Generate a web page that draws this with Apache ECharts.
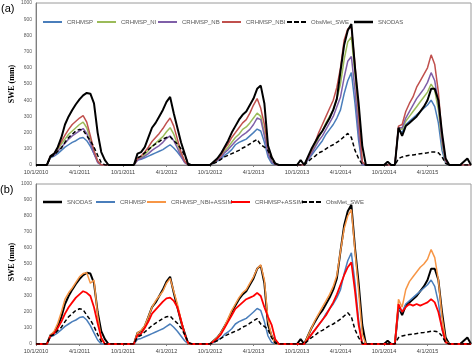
<!DOCTYPE html>
<html><head><meta charset="utf-8">
<script src="https://cdn.jsdelivr.net/npm/echarts@6/dist/echarts.min.js"></script>
<style>html,body{margin:0;padding:0;background:#fff}#c{width:474px;height:356px}</style>
</head><body><div id="c"></div>
<script>
// semi-monthly dates (1st and 15th), 10/1/2010 .. 10/1/2015
const monthsWY = [10,11,12,1,2,3,4,5,6,7,8,9];
const categories = [];
for (let wy = 2011; wy <= 2015; wy++) {
  for (const m of monthsWY) {
    const y = m >= 10 ? wy - 1 : wy;
    categories.push(m + '/1/' + y, m + '/15/' + y);
  }
}
categories.push('10/1/2015');

const yTicks = [0,100,200,300,400,500,600,700,800,900,1000];

// Values (mm), one row of 24 per water year (Oct1..Sep15), plus end point
const snodas = [
  0,0,0,0,55,70,110,170,250,300,340,375,405,430,445,440,380,200,80,30,0,0,0,0,
  0,0,0,0,70,80,110,170,230,260,300,340,390,420,320,230,140,70,0,0,0,0,0,0,
  0,20,40,70,110,150,200,240,280,310,330,370,410,470,490,380,120,50,10,0,0,0,0,0,
  0,30,0,50,100,140,180,210,250,290,340,410,580,740,830,870,600,380,120,0,0,0,0,0,
  0,20,0,0,230,180,240,260,280,300,330,360,400,470,470,400,200,40,0,0,0,0,20,40,
  0];
const obsMet = [
  0,0,0,0,50,60,85,105,140,170,190,210,220,215,180,150,110,60,15,0,0,0,0,0,
  0,0,0,0,45,55,75,95,115,130,145,160,170,175,150,130,100,60,10,0,0,0,0,0,
  0,10,20,35,50,60,70,80,90,105,115,130,145,158,125,110,90,40,5,0,0,0,0,0,
  0,0,0,20,40,55,75,85,100,115,125,140,155,175,195,170,90,40,5,0,0,0,0,0,
  0,0,0,0,40,50,55,60,62,65,70,72,75,80,80,75,50,10,0,0,0,0,0,0,
  0];
const crhmsp = [
  0,0,0,0,45,55,70,90,110,125,140,150,165,170,150,115,70,25,0,0,0,0,0,0,
  0,0,0,0,30,35,45,55,65,75,85,95,110,125,105,80,50,20,0,0,0,0,0,0,
  0,10,25,35,60,75,95,125,140,150,160,180,200,222,210,140,50,10,0,0,0,0,0,0,
  0,0,0,30,60,90,120,150,190,220,250,290,340,440,520,570,380,150,0,0,0,0,0,0,
  0,0,0,0,220,200,250,270,290,310,330,350,370,400,360,260,90,10,0,0,0,0,0,0,
  0];
const crhmspNI = [
  0,0,0,0,50,65,95,130,160,190,210,230,250,265,230,160,80,20,0,0,0,0,0,0,
  0,0,0,0,35,45,65,90,115,135,155,175,205,230,190,130,70,20,0,0,0,0,0,0,
  0,15,30,50,85,110,140,170,190,220,235,260,290,320,300,200,80,25,0,0,0,0,0,0,
  0,0,0,40,80,120,170,210,260,300,340,410,500,650,760,790,560,250,10,0,0,0,0,0,
  0,0,0,0,230,220,270,300,330,360,390,420,450,500,460,340,130,15,0,0,0,0,0,0,
  0];
const crhmspNB = [
  0,0,0,0,50,60,85,110,135,160,180,195,210,225,195,135,70,15,0,0,0,0,0,0,
  0,0,0,0,30,40,55,70,90,105,120,140,165,180,150,105,55,15,0,0,0,0,0,0,
  0,15,30,45,75,95,120,145,165,185,200,220,250,290,280,180,70,20,0,0,0,0,0,0,
  0,0,0,35,70,110,150,180,220,260,300,360,420,540,640,670,460,200,5,0,0,0,0,0,
  0,0,0,0,230,230,290,330,370,410,440,470,510,570,520,380,150,20,0,0,0,0,0,0,
  0];
const crhmspNBI = [
  0,0,0,0,55,70,105,145,185,220,250,270,290,305,265,180,90,25,0,0,0,0,0,0,
  0,0,0,0,40,55,80,110,145,170,195,225,260,290,240,160,80,25,0,0,0,0,0,0,
  0,15,35,60,100,130,170,200,230,260,280,320,370,410,350,250,110,50,5,0,0,0,0,0,
  0,0,0,45,90,140,200,250,300,350,400,480,600,770,840,850,620,320,20,0,0,0,0,0,
  0,0,0,0,240,250,330,380,420,480,520,560,600,680,620,450,180,30,0,0,0,0,0,0,
  0];
const nbiAssim = [
  0,0,0,0,55,80,130,200,280,320,350,385,420,440,445,380,400,180,30,0,0,0,0,0,
  0,0,0,0,70,85,115,170,230,270,300,330,380,410,330,250,150,60,0,0,0,0,0,0,
  0,20,40,70,110,160,210,250,290,320,340,380,420,470,495,400,150,50,0,0,0,0,0,0,
  0,0,0,50,100,150,190,230,270,310,360,430,580,720,800,840,580,330,60,0,0,0,0,0,
  0,0,0,0,280,230,340,390,420,450,480,500,530,590,540,400,170,20,0,0,0,0,0,0,
  0];
const crhmspAssim = [
  0,0,0,0,50,65,100,140,190,230,260,290,310,330,320,300,230,130,40,0,0,0,0,0,
  0,0,0,0,55,65,100,140,190,215,240,265,285,290,270,230,150,60,5,0,0,0,0,0,
  0,15,35,60,100,140,180,220,240,260,280,290,300,320,300,230,170,120,30,0,0,0,0,0,
  0,0,0,30,60,90,120,150,180,220,260,310,370,430,480,510,330,120,0,0,0,0,0,0,
  0,0,0,0,250,200,230,250,240,250,240,250,260,280,260,200,100,10,0,0,0,0,0,0,
  0];

const C = {blue:'#4A7EBB', green:'#9BBB59', purple:'#7F5FA8', redA:'#C0504D', orange:'#F79646', redB:'#FF0000', black:'#000000'};

function isMajor(v){ return (v.indexOf('10/1/')===0 || v.indexOf('4/1/')===0) && v !== '10/1/2015'; }

function xAx(gi){
  return {type:'category', gridIndex:gi, data:categories, boundaryGap:false,
    axisLine:{lineStyle:{color:'#7f7f7f', width:1}},
    axisTick:{show:true, interval:(i,v)=>isMajor(v), length:2, inside:false, lineStyle:{color:'#7f7f7f'}},
    axisLabel:{interval:(i,v)=>isMajor(v), fontSize:5.5, color:'#404040', margin:4, fontFamily:'Liberation Sans'},
    splitLine:{show:false}};
}
function yAx(gi){
  return {type:'value', gridIndex:gi, min:0, max:1000, interval:100,
    axisLine:{show:true, lineStyle:{color:'#7f7f7f'}}, axisTick:{show:false},
    axisLabel:{fontSize:5, color:'#595959', margin:4, fontFamily:'Liberation Sans',
      formatter:(v)=> yTicks.indexOf(v)>=0 ? String(v) : ''},
    splitLine:{show:false}};
}
function ser(name, data, color, width, gi, dashed){
  return {name, type:'line', xAxisIndex:gi, yAxisIndex:gi, data, symbol:'none', silent:true,
    lineStyle:{color, width, type: dashed ? [4,2.5] : 'solid'}, itemStyle:{color}};
}
const DASH_ICON = 'path://M0,0h5v2h-5zM7,0h5v2h-5zM14,0h5v2h-5z';
function leg(name, left, top, dashed, thick){
  return {data:[{name, icon: dashed ? DASH_ICON : 'rect'}], left, top,
    itemWidth:19, itemHeight: thick ? 2.5 : 2, symbolKeepAspect:false, padding:0, itemGap:0,
    formatter:(n)=>n.trim(),
    textStyle:{fontSize:6, color:'#595959', fontFamily:'Liberation Sans'}};
}

const chart = echarts.init(document.getElementById('c'), null, {renderer:'canvas'});
chart.setOption({
  animation:false,
  backgroundColor:'#fff',
  grid:[
    {left:36, top:3, width:435, height:162, show:true, borderColor:'#9a9a9a', borderWidth:1},
    {left:36, top:184, width:435, height:160, show:true, borderColor:'#9a9a9a', borderWidth:1}
  ],
  xAxis:[xAx(0), xAx(1)],
  yAxis:[yAx(0), yAx(1)],
  legend:[
    leg('CRHMSP',43,19), leg('CRHMSP_NI',97,19), leg('CRHMSP_NB',158,19), leg('CRHMSP_NBI',222,19),
    leg('ObsMet_SWE',287,19,true), leg('SNODAS',354,19,false,true),
    leg('SNODAS ',43,199,false,true), leg('CRHMSP ',96,199), leg('CRHMSP_NBI+ASSIM',147,199),
    leg('CRHMSP+ASSIM',231,199), leg('ObsMet_SWE ',302,199,true)
  ],
  graphic:[
    {type:'text', x:1, y:3, style:{text:'(a)', font:'11px "Liberation Sans"', fill:'#000'}},
    {type:'text', x:0, y:184, style:{text:'(b)', font:'11px "Liberation Sans"', fill:'#000'}},
    {type:'text', x:12, y:84, rotation:Math.PI/2, style:{text:'SWE (mm)', font:'bold 8px "Liberation Serif"', fill:'#000', align:'center', verticalAlign:'middle'}},
    {type:'text', x:12, y:262, rotation:Math.PI/2, style:{text:'SWE (mm)', font:'bold 8px "Liberation Serif"', fill:'#000', align:'center', verticalAlign:'middle'}}
  ],
  series:[
    ser('CRHMSP', crhmsp, C.blue, 1.5, 0),
    ser('CRHMSP_NI', crhmspNI, C.green, 1.5, 0),
    ser('CRHMSP_NB', crhmspNB, C.purple, 1.5, 0),
    ser('CRHMSP_NBI', crhmspNBI, C.redA, 1.5, 0),
    ser('ObsMet_SWE', obsMet, C.black, 1.5, 0, true),
    ser('SNODAS', snodas, C.black, 2, 0),
    ser('SNODAS ', snodas, C.black, 2, 1),
    ser('CRHMSP ', crhmsp, C.blue, 1.5, 1),
    ser('CRHMSP_NBI+ASSIM', nbiAssim, C.orange, 1.5, 1),
    ser('CRHMSP+ASSIM', crhmspAssim, C.redB, 1.8, 1),
    ser('ObsMet_SWE ', obsMet, C.black, 1.5, 1, true)
  ]
});
</script></body></html>
